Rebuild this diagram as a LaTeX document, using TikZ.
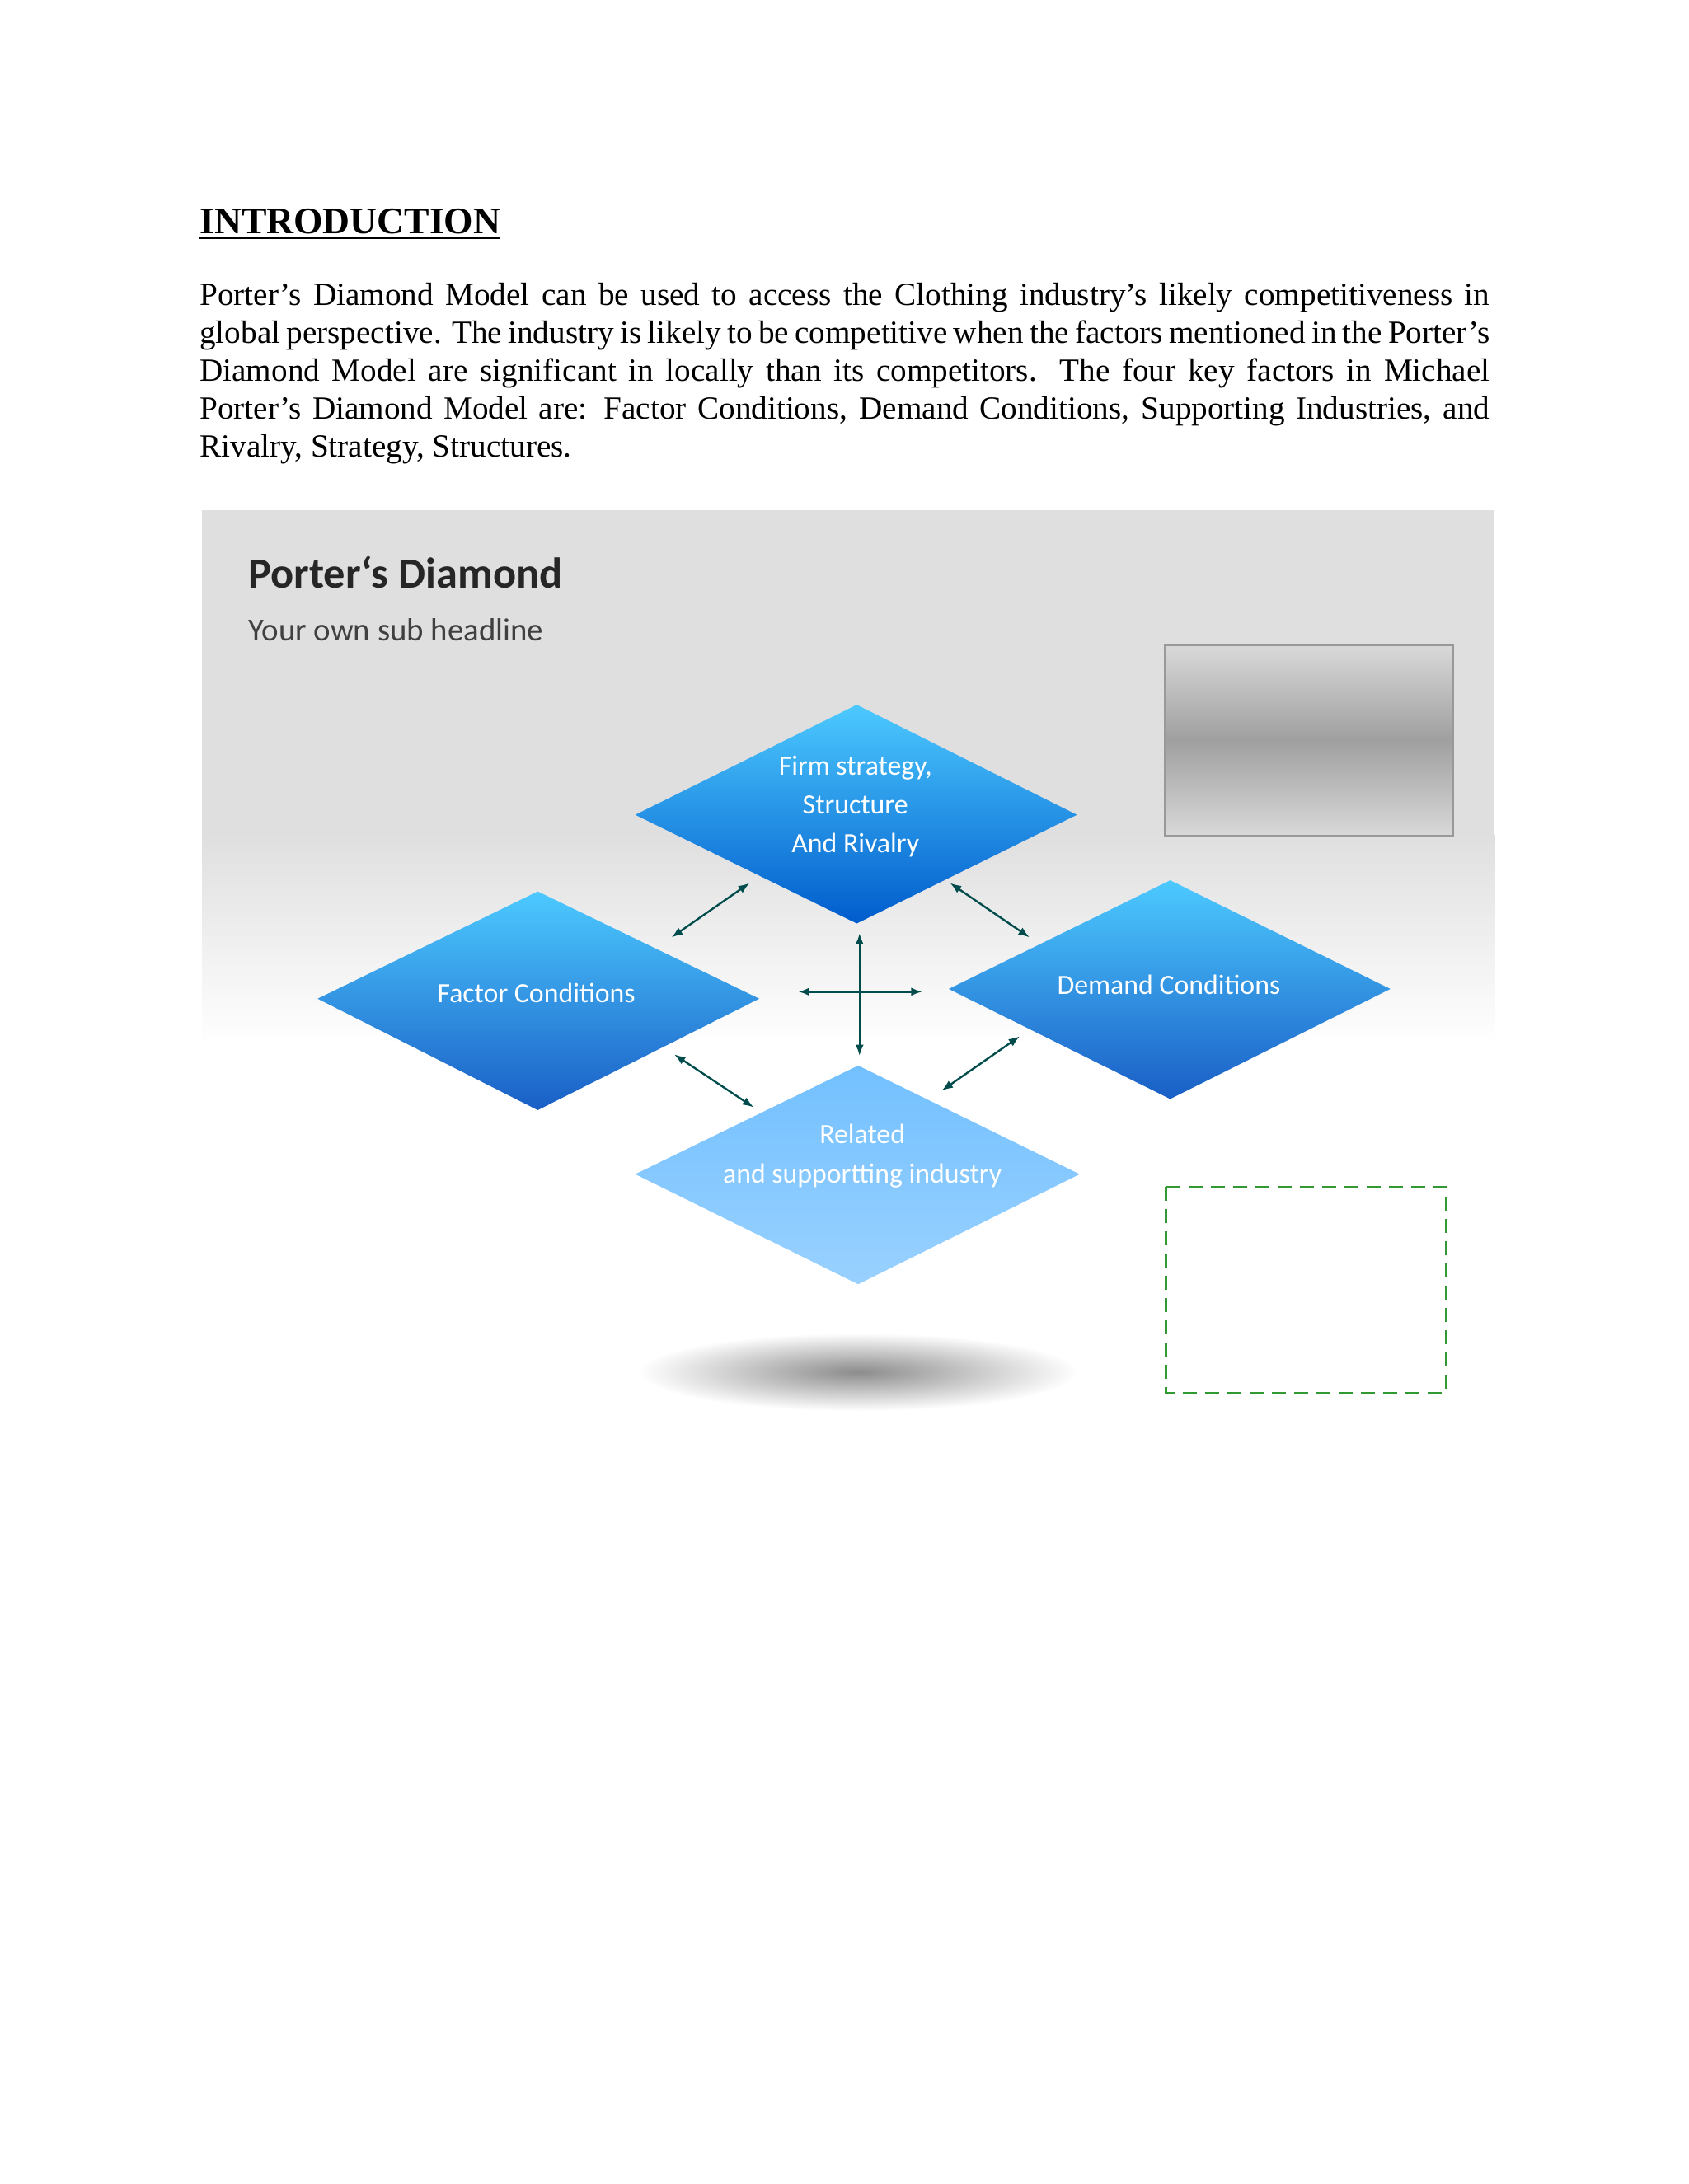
\documentclass[tikz,border=0pt]{standalone}
\usepackage{fontspec}
\setmainfont{Liberation Serif}
\newfontfamily\calfont{Carlito}
\usetikzlibrary{arrows.meta}
\begin{document}
\begin{tikzpicture}[x=0.5pt,y=-0.5pt,
  dtxt/.style={text=white,font=\calfont\fontsize{10}{14}\selectfont,align=center},
  biarrow/.style={draw=teal!60!black,line width=0.7pt,{Latex[length=4pt,width=3pt]}-{Latex[length=4pt,width=3pt]}}]
\useasboundingbox (0,0) rectangle (1212,1568);
\fill[white] (0,0) rectangle (1212,1568);
\node[anchor=base west,font=\bfseries\fontsize{13.5}{16}\selectfont,inner sep=0] (h) at (143,168) {\underline{INTRODUCTION}};
\node[anchor=north west,text width=463pt,align=justify,inner sep=0,font=\fontsize{11.6}{13.6}\selectfont] (p) at (143,203)
{Porter’s Diamond Model can be used to access the Clothing industry’s likely competitiveness in global perspective. The industry is likely to be competitive when the factors mentioned in the Porter’s Diamond Model are significant in locally than its competitors. The four key factors in Michael Porter’s Diamond Model are: Factor Conditions, Demand Conditions, Supporting Industries, and Rivalry, Strategy, Structures.};
% panel
\fill[gray!25] (145,366) rectangle (1073,600);
\shade[top color=gray!25,bottom color=white] (145,599) rectangle (1073,750);
\node[anchor=base west,inner sep=0,font=\calfont\bfseries\fontsize{15.5}{18}\selectfont,text=black!85] (t) at (178,422) {Porter‘s Diamond};
\node[anchor=base west,inner sep=0,font=\calfont\fontsize{11.5}{14}\selectfont,text=black!75] (s) at (178,460) {Your own sub headline};
\shade[top color=gray!30,bottom color=gray!30,middle color=gray!75] (836,463) rectangle (1043,600);
\draw[gray!80,line width=0.8pt] (836,463) rectangle (1043,600);
% shadow
\shade[inner color=gray!90,outer color=white] (616,985) ellipse [x radius=158,y radius=28];
% diamonds
\shade[top color=blue!30!cyan!70!white,bottom color=blue!55!cyan!80!black] (456,585)--(615,506)--(773,585)--(615,663)--cycle;
\shade[top color=cyan!70!blue!70,bottom color=cyan!40!blue!75!black!90] (228,717)--(386,640)--(545,717)--(386,797)--cycle;
\shade[top color=cyan!70!blue!70,bottom color=cyan!40!blue!75!black!90] (681,710)--(840,632)--(998,710)--(840,789)--cycle;
\shade[top color=cyan!55!blue!55!white,bottom color=blue!45!cyan!40!white] (456,843)--(616,765)--(775,843)--(616,922)--cycle;
\node[dtxt] (fs) at (614,579) {Firm strategy,\\Structure\\And Rivalry};
\node[dtxt] (fc) at (385,713) {Factor Conditions};
\node[dtxt] (dc) at (839,707) {Demand Conditions};
\node[dtxt] (rs) at (619,830) {Related\\and supportting industry};
% arrows
\coordinate (a1) at (482,673); \coordinate (a2) at (538,634);
\coordinate (b1) at (682,634); \coordinate (b2) at (739,673);
\coordinate (c1) at (484,757); \coordinate (c2) at (541,795);
\coordinate (d1) at (676,783); \coordinate (d2) at (732,744);
\coordinate (v1) at (617,670); \coordinate (v2) at (617,758);
\coordinate (h1) at (573,712); \coordinate (h2) at (662,712);
\draw[biarrow] (a1)--(a2); \draw[biarrow] (b1)--(b2);
\draw[biarrow] (c1)--(c2); \draw[biarrow] (d1)--(d2);
\draw[biarrow] (v1)--(v2); \draw[biarrow] (h1)--(h2);
\draw[green!50!black!80,line width=0.8pt,dash pattern=on 5pt off 3pt] (837,852) rectangle (1038,1000);
\end{tikzpicture}
\end{document}
